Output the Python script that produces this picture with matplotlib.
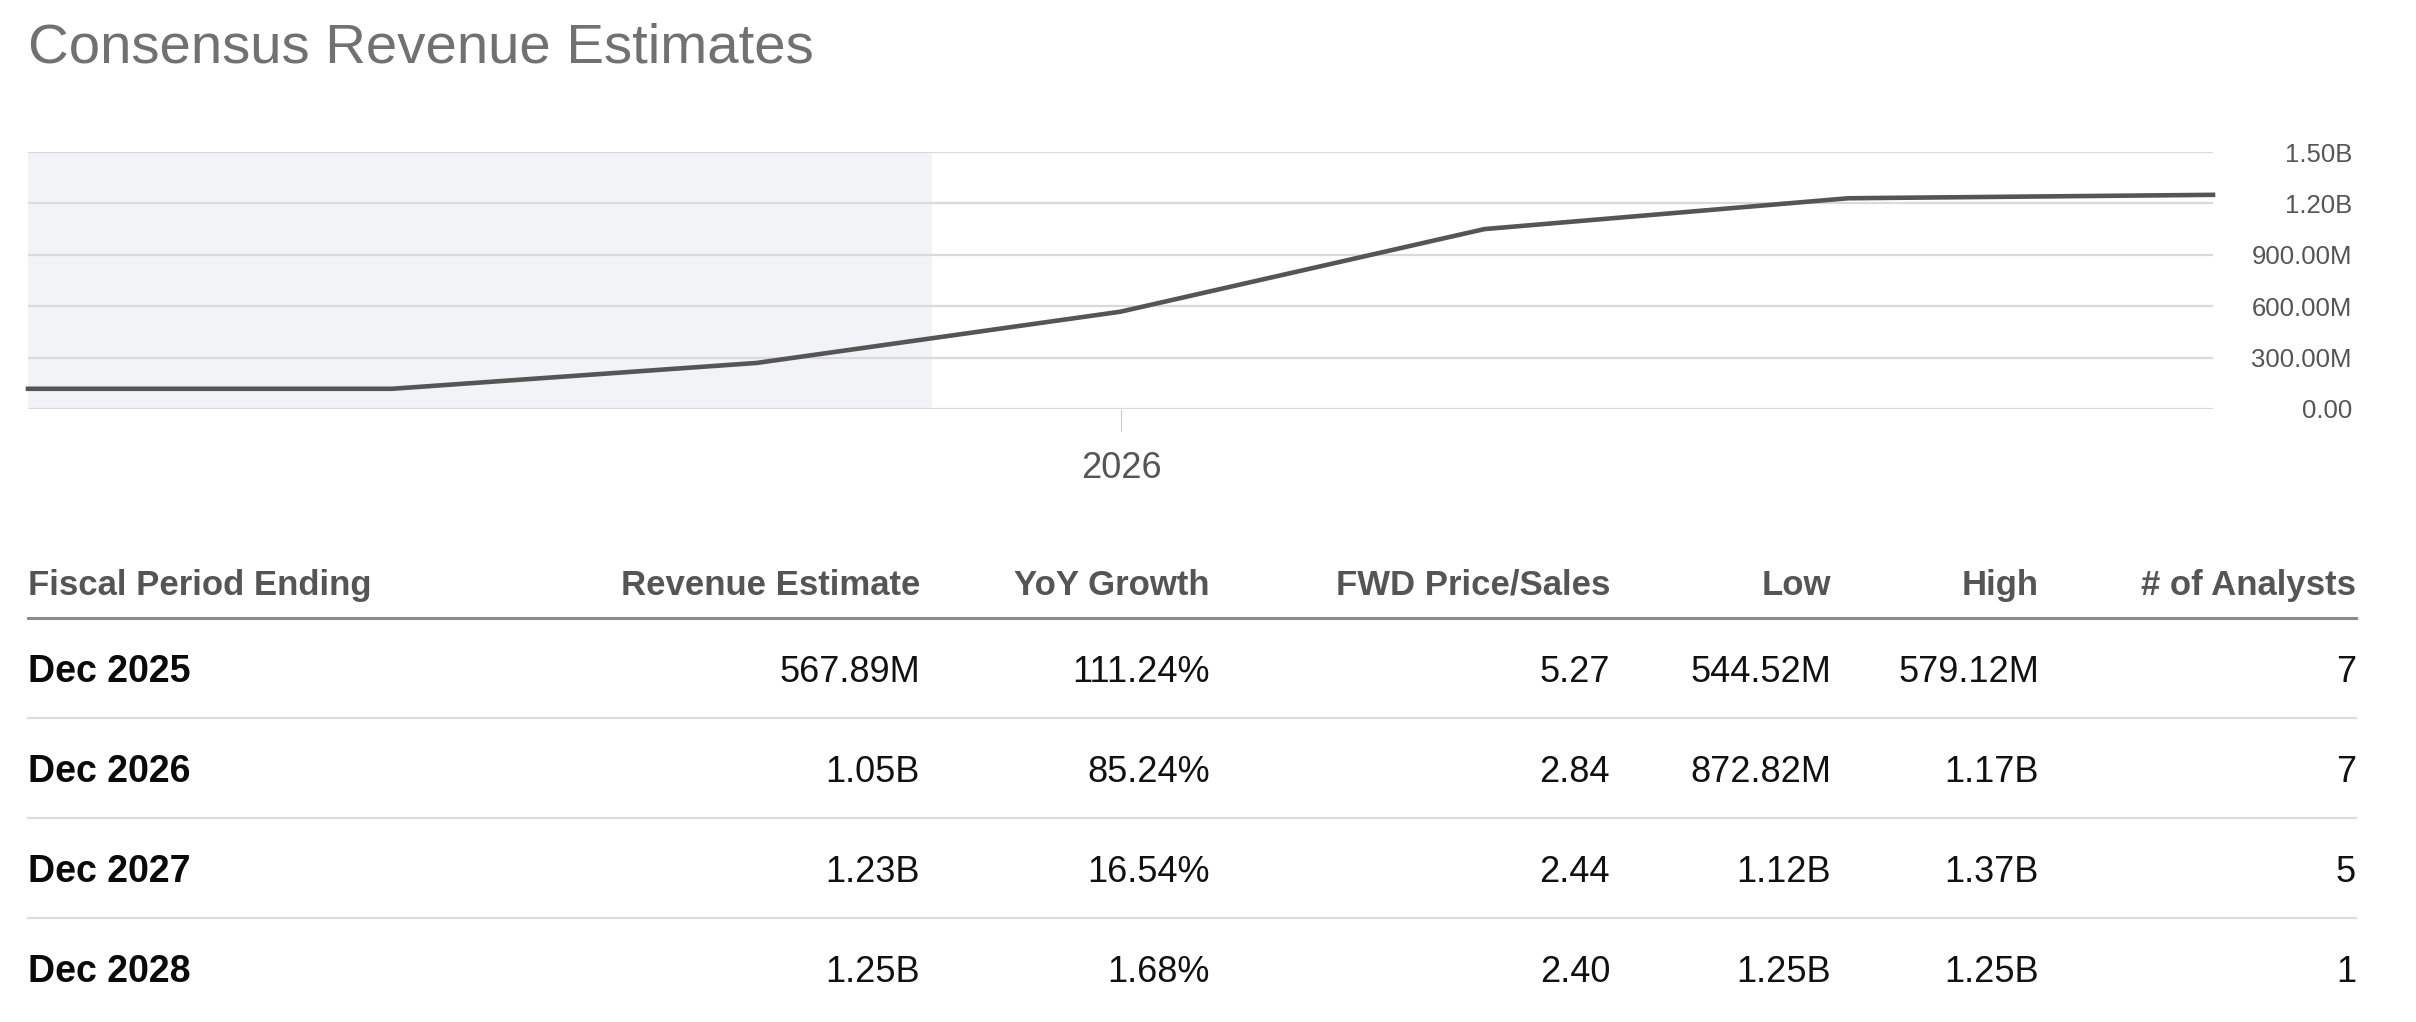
import matplotlib
matplotlib.use("Agg")
import matplotlib.pyplot as plt
import matplotlib.dates as mdates
from matplotlib.lines import Line2D
from matplotlib.ticker import FixedLocator, FuncFormatter
import pandas as pd

plt.rcParams['font.family'] = ['Liberation Sans', 'DejaVu Sans']

# ---------------- data ----------------
title = "Consensus Revenue Estimates"
period_dates = ["2022-12-31", "2023-12-31", "2024-12-31", "2025-12-31",
                "2026-12-31", "2027-12-31", "2028-12-31"]
revenue = [118e6, 118e6, 268.84e6, 567.89e6, 1.05e9, 1.23e9, 1.25e9]
shade_end = "2025-06-25"
y_ticks = [0, 300e6, 600e6, 900e6, 1.2e9, 1.5e9]
y_tick_labels = ["0.00", "300.00M", "600.00M", "900.00M", "1.20B", "1.50B"]
x_tick_date = "2026-01-01"
x_tick_label = "2026"

headers = ["Fiscal Period Ending", "Revenue Estimate", "YoY Growth",
           "FWD Price/Sales", "Low", "High", "# of Analysts"]
fiscal_period = ["Dec 2025", "Dec 2026", "Dec 2027", "Dec 2028"]
rev_estimate = ["567.89M", "1.05B", "1.23B", "1.25B"]
yoy_growth = ["111.24%", "85.24%", "16.54%", "1.68%"]
fwd_ps = ["5.27", "2.84", "2.44", "2.40"]
low = ["544.52M", "872.82M", "1.12B", "1.25B"]
high = ["579.12M", "1.17B", "1.37B", "1.25B"]
analysts = ["7", "7", "5", "1"]

# ---------------- figure ----------------
W, H = 2416, 1022
fig = plt.figure(figsize=(W / 100, H / 100), dpi=100)
fig.patch.set_facecolor("white")


def fx(x):
    return x / W


def fy(y):
    return 1 - y / H


fig.text(fx(28), fy(62), title, fontsize=40.6, color="#717171",
         ha="left", va="baseline")

# chart
L, R, T, B = 28, 2213, 152, 409
ax = fig.add_axes([fx(L), fy(B), (R - L) / W, (B - T) / H])
dates = pd.to_datetime(period_dates)
ax.set_xlim(dates[0], dates[-1])
ax.set_ylim(0, 1.5e9)
ax.axvspan(dates[0], pd.Timestamp(shade_end), color="#f2f3f7", zorder=0, lw=0)
ax.plot(dates, revenue, color="#555555", lw=3.3, zorder=3,
        solid_joinstyle="miter", clip_on=False)
for s in ax.spines.values():
    s.set_visible(False)
ax.set_facecolor("none")
ax.yaxis.set_major_locator(FixedLocator(y_ticks))
ax.yaxis.set_major_formatter(FuncFormatter(lambda v, p: y_tick_labels[y_ticks.index(v)] if v in y_ticks else ""))
ax.yaxis.tick_right()
ax.tick_params(axis="y", length=0, pad=(2352 - R) * 0.72, labelsize=18.5,
               labelcolor="#555555")
for lab in ax.get_yticklabels():
    lab.set_ha("right")
ax.grid(axis="y", color="#dadada", lw=1.6, zorder=1)
ax.set_axisbelow(True)
ax.xaxis.set_major_locator(FixedLocator([mdates.date2num(pd.Timestamp(x_tick_date))]))
ax.xaxis.set_major_formatter(FuncFormatter(lambda v, p: x_tick_label))
ax.tick_params(axis="x", length=16, width=0.8, color="#cccccc", pad=14,
               labelsize=26, labelcolor="#555555")

# table
col_right = [None, 920, 1210, 1610, 1831, 2039, 2356]
col_left = 28
header_y = 585
row_y = [672, 772, 872, 972]
columns = [fiscal_period, rev_estimate, yoy_growth, fwd_ps, low, high, analysts]

for i, h in enumerate(headers):
    if i == 0:
        fig.text(fx(col_left), fy(header_y), h, fontsize=25, fontweight="bold",
                 color="#555555", ha="left", va="center")
    else:
        fig.text(fx(col_right[i]), fy(header_y), h, fontsize=25, fontweight="bold",
                 color="#555555", ha="right", va="center")

fig.add_artist(Line2D([fx(28), fx(2356)], [fy(618), fy(618)],
                      transform=fig.transFigure, color="#888c8e", lw=2.2))
for ly in [718, 818, 918]:
    fig.add_artist(Line2D([fx(28), fx(2356)], [fy(ly), fy(ly)],
                          transform=fig.transFigure, color="#dddddd", lw=1.6))

for r, yv in enumerate(row_y):
    for c, col in enumerate(columns):
        if c == 0:
            fig.text(fx(col_left), fy(yv), col[r], fontsize=27, fontweight="bold",
                     color="#0a0a0a", ha="left", va="center")
        else:
            fig.text(fx(col_right[c]), fy(yv), col[r], fontsize=26,
                     color="#111111", ha="right", va="center")

fig.savefig("out.png", dpi=100, facecolor="white")
